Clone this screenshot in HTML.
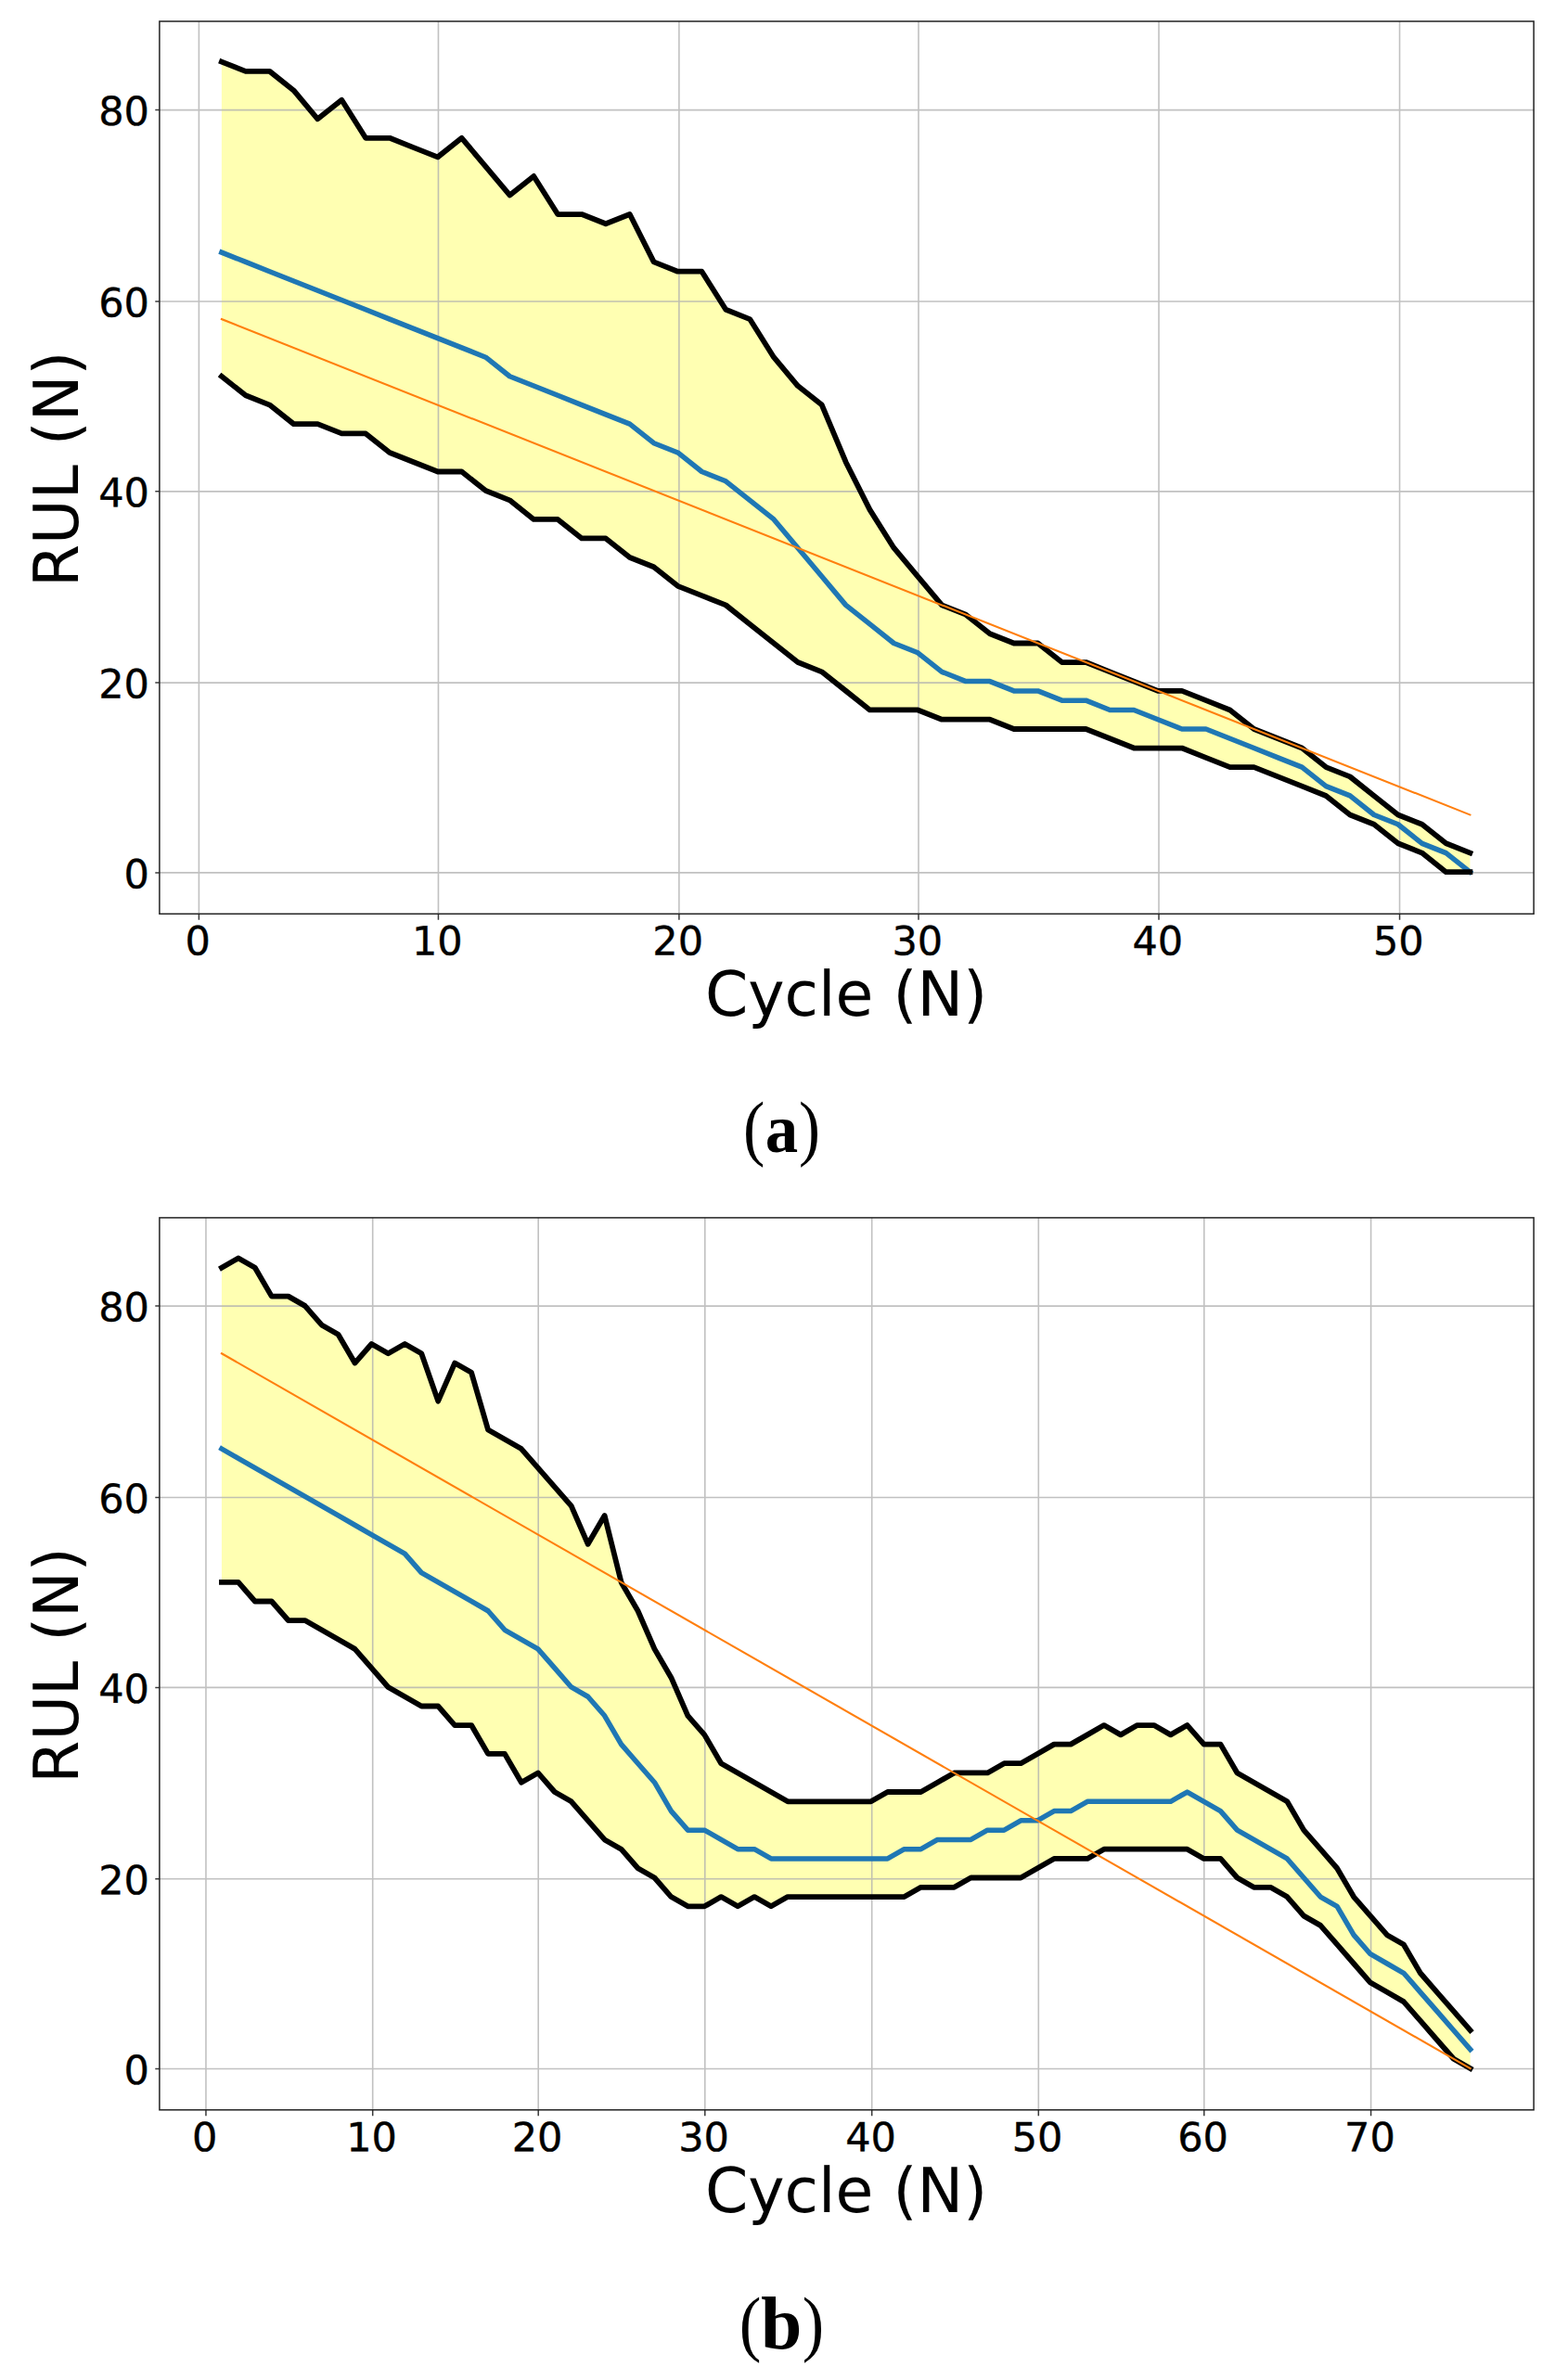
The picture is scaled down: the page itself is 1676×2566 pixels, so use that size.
<!DOCTYPE html>
<html lang="en">
<head>
<meta charset="utf-8">
<title>RUL prediction figure</title>
<style>
html,body{margin:0;padding:0;background:#fff;}
body{width:1676px;height:2566px;overflow:hidden;}
svg{display:block;}
</style>
</head>
<body>
<svg width="1676" height="2566" viewBox="0 0 1676 2566">
<rect width="1676" height="2566" fill="#fff"/>
<g id="chart-a">
<polygon points="238.88,66.61 264.75,76.88 290.63,76.88 316.5,97.44 342.38,128.27 368.26,107.71 394.13,148.82 420.01,148.82 445.88,159.1 471.76,169.38 497.64,148.82 523.51,179.65 549.39,210.48 575.26,189.93 601.14,231.04 627.02,231.04 652.89,241.31 678.77,231.04 704.64,282.42 730.52,292.7 756.4,292.7 782.27,333.81 808.15,344.08 834.02,385.19 859.9,416.02 885.78,436.58 911.65,498.24 937.53,549.62 963.4,590.73 989.28,621.56 1015.16,652.39 1041.03,662.67 1066.91,683.23 1092.78,693.5 1118.66,693.5 1144.54,714.06 1170.41,714.06 1196.29,724.33 1222.16,734.61 1248.04,744.89 1273.92,744.89 1299.79,755.16 1325.67,765.44 1351.54,786 1377.42,796.27 1403.3,806.55 1429.17,827.1 1455.05,837.38 1480.92,857.93 1506.8,878.49 1532.68,888.76 1558.55,909.32 1584.43,919.6 1584.43,940.15 1558.55,940.15 1532.68,919.6 1506.8,909.32 1480.92,888.76 1455.05,878.49 1429.17,857.93 1403.3,847.66 1377.42,837.38 1351.54,827.1 1325.67,827.1 1299.79,816.83 1273.92,806.55 1248.04,806.55 1222.16,806.55 1196.29,796.27 1170.41,786 1144.54,786 1118.66,786 1092.78,786 1066.91,775.72 1041.03,775.72 1015.16,775.72 989.28,765.44 963.4,765.44 937.53,765.44 911.65,744.89 885.78,724.33 859.9,714.06 834.02,693.5 808.15,672.95 782.27,652.39 756.4,642.12 730.52,631.84 704.64,611.29 678.77,601.01 652.89,580.45 627.02,580.45 601.14,559.9 575.26,559.9 549.39,539.35 523.51,529.07 497.64,508.52 471.76,508.52 445.88,498.24 420.01,487.96 394.13,467.41 368.26,467.41 342.38,457.13 316.5,457.13 290.63,436.58 264.75,426.3 238.88,405.75" fill="#ffff00" fill-opacity="0.3"/>
<path d="M214.4 23V985.3M472.45 23V985.3M731.9 23V985.3M990 23V985.3M1249 23V985.3M1508.55 23V985.3M171.9 940.9H1653.1M171.9 736.1H1653.1M171.9 529.85H1653.1M171.9 325H1653.1M171.9 118.6H1653.1" stroke="#b0b0b0" stroke-opacity="0.78" stroke-width="1.6" fill="none"/>
<polyline points="238.88,272.14 264.75,282.42 290.63,292.7 316.5,302.98 342.38,313.25 368.26,323.53 394.13,333.81 420.01,344.08 445.88,354.36 471.76,364.64 497.64,374.91 523.51,385.19 549.39,405.75 575.26,416.02 601.14,426.3 627.02,436.58 652.89,446.85 678.77,457.13 704.64,477.69 730.52,487.96 756.4,508.52 782.27,518.79 808.15,539.35 834.02,559.9 859.9,590.73 885.78,621.56 911.65,652.39 937.53,672.95 963.4,693.5 989.28,703.78 1015.16,724.33 1041.03,734.61 1066.91,734.61 1092.78,744.89 1118.66,744.89 1144.54,755.16 1170.41,755.16 1196.29,765.44 1222.16,765.44 1248.04,775.72 1273.92,786 1299.79,786 1325.67,796.27 1351.54,806.55 1377.42,816.83 1403.3,827.1 1429.17,847.66 1455.05,857.93 1480.92,878.49 1506.8,888.76 1532.68,909.32 1558.55,919.6 1584.43,940.15" fill="none" stroke="#1f77b4" stroke-width="5.5" stroke-linejoin="round" stroke-linecap="square"/>
<polyline points="238.88,66.61 264.75,76.88 290.63,76.88 316.5,97.44 342.38,128.27 368.26,107.71 394.13,148.82 420.01,148.82 445.88,159.1 471.76,169.38 497.64,148.82 523.51,179.65 549.39,210.48 575.26,189.93 601.14,231.04 627.02,231.04 652.89,241.31 678.77,231.04 704.64,282.42 730.52,292.7 756.4,292.7 782.27,333.81 808.15,344.08 834.02,385.19 859.9,416.02 885.78,436.58 911.65,498.24 937.53,549.62 963.4,590.73 989.28,621.56 1015.16,652.39 1041.03,662.67 1066.91,683.23 1092.78,693.5 1118.66,693.5 1144.54,714.06 1170.41,714.06 1196.29,724.33 1222.16,734.61 1248.04,744.89 1273.92,744.89 1299.79,755.16 1325.67,765.44 1351.54,786 1377.42,796.27 1403.3,806.55 1429.17,827.1 1455.05,837.38 1480.92,857.93 1506.8,878.49 1532.68,888.76 1558.55,909.32 1584.43,919.6" fill="none" stroke="#000" stroke-width="5.8" stroke-linejoin="round" stroke-linecap="square"/>
<polyline points="238.88,405.75 264.75,426.3 290.63,436.58 316.5,457.13 342.38,457.13 368.26,467.41 394.13,467.41 420.01,487.96 445.88,498.24 471.76,508.52 497.64,508.52 523.51,529.07 549.39,539.35 575.26,559.9 601.14,559.9 627.02,580.45 652.89,580.45 678.77,601.01 704.64,611.29 730.52,631.84 756.4,642.12 782.27,652.39 808.15,672.95 834.02,693.5 859.9,714.06 885.78,724.33 911.65,744.89 937.53,765.44 963.4,765.44 989.28,765.44 1015.16,775.72 1041.03,775.72 1066.91,775.72 1092.78,786 1118.66,786 1144.54,786 1170.41,786 1196.29,796.27 1222.16,806.55 1248.04,806.55 1273.92,806.55 1299.79,816.83 1325.67,827.1 1351.54,827.1 1377.42,837.38 1403.3,847.66 1429.17,857.93 1455.05,878.49 1480.92,888.76 1506.8,909.32 1532.68,919.6 1558.55,940.15 1584.43,940.15" fill="none" stroke="#000" stroke-width="5.8" stroke-linejoin="round" stroke-linecap="square"/>
<line x1="238.88" y1="344.08" x2="1584.43" y2="878.49" stroke="#ff7f0e" stroke-width="2.1" stroke-linecap="square"/>
<path d="M214.4 985.3v6.5M472.45 985.3v6.5M731.9 985.3v6.5M990 985.3v6.5M1249 985.3v6.5M1508.55 985.3v6.5M171.9 940.9h-4.6M171.9 736.1h-4.6M171.9 529.85h-4.6M171.9 325h-4.6M171.9 118.6h-4.6" stroke="#3a3a3a" stroke-width="1.5" fill="none"/>
<rect x="171.9" y="23" width="1481.2" height="962.3" fill="none" stroke="#222" stroke-width="1.5"/>
<g font-family="'DejaVu Sans','Liberation Sans',sans-serif" font-size="43.0" fill="#000" stroke="#000" stroke-width="0.4" text-rendering="geometricPrecision">
<text transform="translate(213.2 1029.6) rotate(0.03)" text-anchor="middle">0</text>
<text transform="translate(471.25 1029.6) rotate(0.03)" text-anchor="middle">10</text>
<text transform="translate(730.7 1029.6) rotate(0.03)" text-anchor="middle">20</text>
<text transform="translate(988.8 1029.6) rotate(0.03)" text-anchor="middle">30</text>
<text transform="translate(1247.8 1029.6) rotate(0.03)" text-anchor="middle">40</text>
<text transform="translate(1507.35 1029.6) rotate(0.03)" text-anchor="middle">50</text>
<text transform="translate(160.9 957.4) rotate(0.03)" text-anchor="end">0</text>
<text transform="translate(160.9 752.6) rotate(0.03)" text-anchor="end">20</text>
<text transform="translate(160.9 546.35) rotate(0.03)" text-anchor="end">40</text>
<text transform="translate(160.9 341.5) rotate(0.03)" text-anchor="end">60</text>
<text transform="translate(160.9 135.1) rotate(0.03)" text-anchor="end">80</text>
</g>
<text transform="translate(912 1095) rotate(0.02) scale(0.993 1)" text-anchor="middle" font-family="'DejaVu Sans','Liberation Sans',sans-serif" font-size="66.9" fill="#000" text-rendering="geometricPrecision">Cycle (N)</text>
<text transform="translate(84.1 505.9) rotate(-89.98) scale(0.993 1)" text-anchor="middle" font-family="'DejaVu Sans','Liberation Sans',sans-serif" font-size="66.9" fill="#000" text-rendering="geometricPrecision">RUL (N)</text>
</g>
<text font-family="'Liberation Serif','DejaVu Serif',serif" fill="#000"><tspan x="800.93" y="1241.52" font-size="77.58" font-weight="normal" textLength="23.390" lengthAdjust="spacingAndGlyphs">(</tspan><tspan x="824.69" y="1241.9" font-size="74.87" font-weight="bold" textLength="35.420" lengthAdjust="spacingAndGlyphs">a</tspan><tspan x="861.04" y="1241.52" font-size="77.58" font-weight="normal" textLength="23.002" lengthAdjust="spacingAndGlyphs">)</tspan></text>
<g id="chart-b">
<polygon points="238.94,1366.78 256.89,1356.51 274.83,1366.78 292.77,1397.61 310.72,1397.61 328.66,1407.89 346.6,1428.44 364.54,1438.72 382.49,1469.55 400.43,1449 418.37,1459.28 436.32,1449 454.26,1459.28 472.2,1510.66 490.15,1469.55 508.09,1479.83 526.03,1541.49 543.97,1551.77 561.92,1562.05 579.86,1582.6 597.8,1603.15 615.75,1623.71 633.69,1664.82 651.63,1633.98 669.58,1705.92 687.52,1736.75 705.46,1777.86 723.4,1808.69 741.35,1849.8 759.29,1870.36 777.23,1901.19 795.18,1911.46 813.12,1921.74 831.06,1932.02 849,1942.29 866.95,1942.29 884.89,1942.29 902.83,1942.29 920.78,1942.29 938.72,1942.29 956.66,1932.02 974.61,1932.02 992.55,1932.02 1010.49,1921.74 1028.43,1911.46 1046.38,1911.46 1064.32,1911.46 1082.26,1901.19 1100.21,1901.19 1118.15,1890.91 1136.09,1880.63 1154.04,1880.63 1171.98,1870.36 1189.92,1860.08 1207.87,1870.36 1225.81,1860.08 1243.75,1860.08 1261.69,1870.36 1279.64,1860.08 1297.58,1880.63 1315.52,1880.63 1333.47,1911.46 1351.41,1921.74 1369.35,1932.02 1387.3,1942.29 1405.24,1973.13 1423.18,1993.68 1441.12,2014.23 1459.07,2045.06 1477.01,2065.62 1494.95,2086.17 1512.9,2096.45 1530.84,2127.28 1548.78,2147.83 1566.73,2168.39 1584.67,2188.94 1584.67,2230.05 1566.73,2219.77 1548.78,2199.22 1530.84,2178.66 1512.9,2158.11 1494.95,2147.83 1477.01,2137.56 1459.07,2117 1441.12,2096.45 1423.18,2075.89 1405.24,2065.62 1387.3,2045.06 1369.35,2034.79 1351.41,2034.79 1333.47,2024.51 1315.52,2003.96 1297.58,2003.96 1279.64,1993.68 1261.69,1993.68 1243.75,1993.68 1225.81,1993.68 1207.87,1993.68 1189.92,1993.68 1171.98,2003.96 1154.04,2003.96 1136.09,2003.96 1118.15,2014.23 1100.21,2024.51 1082.26,2024.51 1064.32,2024.51 1046.38,2024.51 1028.43,2034.79 1010.49,2034.79 992.55,2034.79 974.61,2045.06 956.66,2045.06 938.72,2045.06 920.78,2045.06 902.83,2045.06 884.89,2045.06 866.95,2045.06 849,2045.06 831.06,2055.34 813.12,2045.06 795.18,2055.34 777.23,2045.06 759.29,2055.34 741.35,2055.34 723.4,2045.06 705.46,2024.51 687.52,2014.23 669.58,1993.68 651.63,1983.4 633.69,1962.85 615.75,1942.29 597.8,1932.02 579.86,1911.46 561.92,1921.74 543.97,1890.91 526.03,1890.91 508.09,1860.08 490.15,1860.08 472.2,1839.52 454.26,1839.52 436.32,1829.25 418.37,1818.97 400.43,1798.42 382.49,1777.86 364.54,1767.59 346.6,1757.31 328.66,1747.03 310.72,1747.03 292.77,1726.48 274.83,1726.48 256.89,1705.92 238.94,1705.92" fill="#ffff00" fill-opacity="0.3"/>
<path d="M221.96 1312.9V2274.8M401.7 1312.9V2274.8M580.2 1312.9V2274.8M759.8 1312.9V2274.8M939.7 1312.9V2274.8M1119.3 1312.9V2274.8M1297.8 1312.9V2274.8M1477.6 1312.9V2274.8M171.9 2230.5H1653.1M171.9 2025.8H1653.1M171.9 1819.4H1653.1M171.9 1614.5H1653.1M171.9 1408.1H1653.1" stroke="#b0b0b0" stroke-opacity="0.78" stroke-width="1.6" fill="none"/>
<polyline points="238.94,1562.05 256.89,1572.32 274.83,1582.6 292.77,1592.88 310.72,1603.15 328.66,1613.43 346.6,1623.71 364.54,1633.98 382.49,1644.26 400.43,1654.54 418.37,1664.82 436.32,1675.09 454.26,1695.65 472.2,1705.92 490.15,1716.2 508.09,1726.48 526.03,1736.75 543.97,1757.31 561.92,1767.59 579.86,1777.86 597.8,1798.42 615.75,1818.97 633.69,1829.25 651.63,1849.8 669.58,1880.63 687.52,1901.19 705.46,1921.74 723.4,1952.57 741.35,1973.13 759.29,1973.13 777.23,1983.4 795.18,1993.68 813.12,1993.68 831.06,2003.96 849,2003.96 866.95,2003.96 884.89,2003.96 902.83,2003.96 920.78,2003.96 938.72,2003.96 956.66,2003.96 974.61,1993.68 992.55,1993.68 1010.49,1983.4 1028.43,1983.4 1046.38,1983.4 1064.32,1973.13 1082.26,1973.13 1100.21,1962.85 1118.15,1962.85 1136.09,1952.57 1154.04,1952.57 1171.98,1942.29 1189.92,1942.29 1207.87,1942.29 1225.81,1942.29 1243.75,1942.29 1261.69,1942.29 1279.64,1932.02 1297.58,1942.29 1315.52,1952.57 1333.47,1973.13 1351.41,1983.4 1369.35,1993.68 1387.3,2003.96 1405.24,2024.51 1423.18,2045.06 1441.12,2055.34 1459.07,2086.17 1477.01,2106.73 1494.95,2117 1512.9,2127.28 1530.84,2147.83 1548.78,2168.39 1566.73,2188.94 1584.67,2209.5" fill="none" stroke="#1f77b4" stroke-width="5.5" stroke-linejoin="round" stroke-linecap="square"/>
<polyline points="238.94,1366.78 256.89,1356.51 274.83,1366.78 292.77,1397.61 310.72,1397.61 328.66,1407.89 346.6,1428.44 364.54,1438.72 382.49,1469.55 400.43,1449 418.37,1459.28 436.32,1449 454.26,1459.28 472.2,1510.66 490.15,1469.55 508.09,1479.83 526.03,1541.49 543.97,1551.77 561.92,1562.05 579.86,1582.6 597.8,1603.15 615.75,1623.71 633.69,1664.82 651.63,1633.98 669.58,1705.92 687.52,1736.75 705.46,1777.86 723.4,1808.69 741.35,1849.8 759.29,1870.36 777.23,1901.19 795.18,1911.46 813.12,1921.74 831.06,1932.02 849,1942.29 866.95,1942.29 884.89,1942.29 902.83,1942.29 920.78,1942.29 938.72,1942.29 956.66,1932.02 974.61,1932.02 992.55,1932.02 1010.49,1921.74 1028.43,1911.46 1046.38,1911.46 1064.32,1911.46 1082.26,1901.19 1100.21,1901.19 1118.15,1890.91 1136.09,1880.63 1154.04,1880.63 1171.98,1870.36 1189.92,1860.08 1207.87,1870.36 1225.81,1860.08 1243.75,1860.08 1261.69,1870.36 1279.64,1860.08 1297.58,1880.63 1315.52,1880.63 1333.47,1911.46 1351.41,1921.74 1369.35,1932.02 1387.3,1942.29 1405.24,1973.13 1423.18,1993.68 1441.12,2014.23 1459.07,2045.06 1477.01,2065.62 1494.95,2086.17 1512.9,2096.45 1530.84,2127.28 1548.78,2147.83 1566.73,2168.39 1584.67,2188.94" fill="none" stroke="#000" stroke-width="5.8" stroke-linejoin="round" stroke-linecap="square"/>
<polyline points="238.94,1705.92 256.89,1705.92 274.83,1726.48 292.77,1726.48 310.72,1747.03 328.66,1747.03 346.6,1757.31 364.54,1767.59 382.49,1777.86 400.43,1798.42 418.37,1818.97 436.32,1829.25 454.26,1839.52 472.2,1839.52 490.15,1860.08 508.09,1860.08 526.03,1890.91 543.97,1890.91 561.92,1921.74 579.86,1911.46 597.8,1932.02 615.75,1942.29 633.69,1962.85 651.63,1983.4 669.58,1993.68 687.52,2014.23 705.46,2024.51 723.4,2045.06 741.35,2055.34 759.29,2055.34 777.23,2045.06 795.18,2055.34 813.12,2045.06 831.06,2055.34 849,2045.06 866.95,2045.06 884.89,2045.06 902.83,2045.06 920.78,2045.06 938.72,2045.06 956.66,2045.06 974.61,2045.06 992.55,2034.79 1010.49,2034.79 1028.43,2034.79 1046.38,2024.51 1064.32,2024.51 1082.26,2024.51 1100.21,2024.51 1118.15,2014.23 1136.09,2003.96 1154.04,2003.96 1171.98,2003.96 1189.92,1993.68 1207.87,1993.68 1225.81,1993.68 1243.75,1993.68 1261.69,1993.68 1279.64,1993.68 1297.58,2003.96 1315.52,2003.96 1333.47,2024.51 1351.41,2034.79 1369.35,2034.79 1387.3,2045.06 1405.24,2065.62 1423.18,2075.89 1441.12,2096.45 1459.07,2117 1477.01,2137.56 1494.95,2147.83 1512.9,2158.11 1530.84,2178.66 1548.78,2199.22 1566.73,2219.77 1584.67,2230.05" fill="none" stroke="#000" stroke-width="5.8" stroke-linejoin="round" stroke-linecap="square"/>
<line x1="238.94" y1="1459.28" x2="1584.67" y2="2230.05" stroke="#ff7f0e" stroke-width="2.1" stroke-linecap="square"/>
<path d="M221.96 2274.8v6.5M401.7 2274.8v6.5M580.2 2274.8v6.5M759.8 2274.8v6.5M939.7 2274.8v6.5M1119.3 2274.8v6.5M1297.8 2274.8v6.5M1477.6 2274.8v6.5M171.9 2230.5h-4.6M171.9 2025.8h-4.6M171.9 1819.4h-4.6M171.9 1614.5h-4.6M171.9 1408.1h-4.6" stroke="#3a3a3a" stroke-width="1.5" fill="none"/>
<rect x="171.9" y="1312.9" width="1481.2" height="961.9" fill="none" stroke="#222" stroke-width="1.5"/>
<g font-family="'DejaVu Sans','Liberation Sans',sans-serif" font-size="43.0" fill="#000" stroke="#000" stroke-width="0.4" text-rendering="geometricPrecision">
<text transform="translate(220.76 2319.2) rotate(0.03)" text-anchor="middle">0</text>
<text transform="translate(400.5 2319.2) rotate(0.03)" text-anchor="middle">10</text>
<text transform="translate(579 2319.2) rotate(0.03)" text-anchor="middle">20</text>
<text transform="translate(758.6 2319.2) rotate(0.03)" text-anchor="middle">30</text>
<text transform="translate(938.5 2319.2) rotate(0.03)" text-anchor="middle">40</text>
<text transform="translate(1118.1 2319.2) rotate(0.03)" text-anchor="middle">50</text>
<text transform="translate(1296.6 2319.2) rotate(0.03)" text-anchor="middle">60</text>
<text transform="translate(1476.4 2319.2) rotate(0.03)" text-anchor="middle">70</text>
<text transform="translate(160.9 2247) rotate(0.03)" text-anchor="end">0</text>
<text transform="translate(160.9 2042.3) rotate(0.03)" text-anchor="end">20</text>
<text transform="translate(160.9 1835.9) rotate(0.03)" text-anchor="end">40</text>
<text transform="translate(160.9 1631) rotate(0.03)" text-anchor="end">60</text>
<text transform="translate(160.9 1424.6) rotate(0.03)" text-anchor="end">80</text>
</g>
<text transform="translate(912 2384.6) rotate(0.02) scale(0.993 1)" text-anchor="middle" font-family="'DejaVu Sans','Liberation Sans',sans-serif" font-size="66.9" fill="#000" text-rendering="geometricPrecision">Cycle (N)</text>
<text transform="translate(84.1 1795.5) rotate(-89.98) scale(0.993 1)" text-anchor="middle" font-family="'DejaVu Sans','Liberation Sans',sans-serif" font-size="66.9" fill="#000" text-rendering="geometricPrecision">RUL (N)</text>
</g>
<text font-family="'Liberation Serif','DejaVu Serif',serif" fill="#000"><tspan x="796.79" y="2530.94" font-size="77.46" font-weight="normal" textLength="23.652" lengthAdjust="spacingAndGlyphs">(</tspan><tspan x="819.9" y="2532.45" font-size="79.50" font-weight="bold" textLength="44.328" lengthAdjust="spacingAndGlyphs">b</tspan><tspan x="864.8" y="2530.94" font-size="77.46" font-weight="normal" textLength="23.390" lengthAdjust="spacingAndGlyphs">)</tspan></text>
</svg>
</body>
</html>
